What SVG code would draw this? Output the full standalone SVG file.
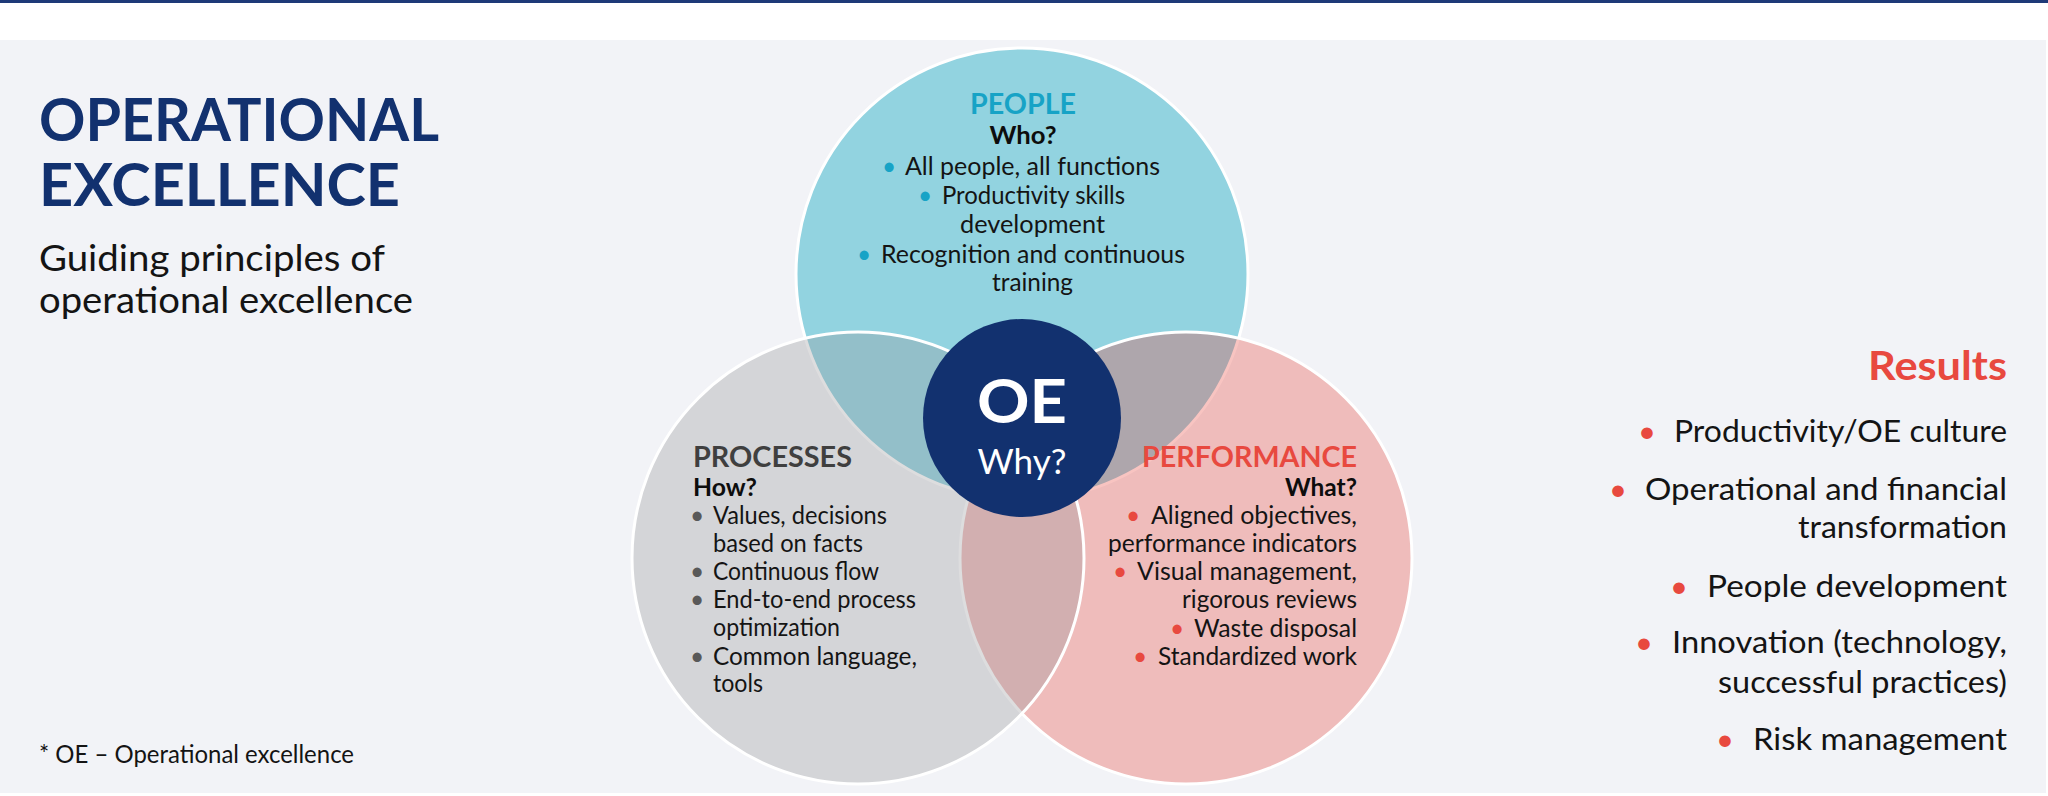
<svg xmlns="http://www.w3.org/2000/svg" width="2048" height="796" viewBox="0 0 2048 796">
<style>
text { font-family: Lato, "Liberation Sans", sans-serif; }
.bd { font-weight: 700; }
.body { font-size: 24.5px; fill: #141414; }
.res { font-size: 31px; fill: #141414; }
.navy { fill: #12316f; }
.teal { fill: #17a3c6; }
.red { fill: #e8493f; }
.dk { fill: #3f3f3f; }
.blk { fill: #0d0d0d; }
.ring { stroke: #ffffff; stroke-width: 3; }
.c { text-anchor: middle; }
.e { text-anchor: end; }
.bt { fill: #595959; }
</style>
<rect x="0" y="0" width="2048" height="796" fill="#ffffff"/>
<rect x="0" y="0" width="2048" height="3" fill="#1e3a78"/>
<rect x="0" y="40" width="2046" height="753" fill="#f2f3f7"/>

<g id="title">
<text x="39" y="141" class="bd navy" font-size="60" textLength="400" lengthAdjust="spacingAndGlyphs">OPERATIONAL</text>
<text x="39" y="206" class="bd navy" font-size="60" textLength="361" lengthAdjust="spacingAndGlyphs">EXCELLENCE</text>
<text x="39" y="271" font-size="36" fill="#141414" textLength="346" lengthAdjust="spacingAndGlyphs">Guiding principles of</text>
<text x="39" y="313" font-size="36" fill="#141414" textLength="374" lengthAdjust="spacingAndGlyphs">operational excellence</text>
</g>

<g id="node-people">
<circle cx="1022" cy="274" r="226" fill="#92d3e0" class="ring"/>
<text x="1023" y="114" class="bd teal c" font-size="28" textLength="106" lengthAdjust="spacingAndGlyphs">PEOPLE</text>
<text x="1023" y="144" class="bd blk c" font-size="24" textLength="67" lengthAdjust="spacingAndGlyphs">Who?</text>
<text x="889" y="175" class="body teal c">•</text>
<text x="905" y="175" class="body" textLength="255" lengthAdjust="spacingAndGlyphs">All people, all functions</text>
<text x="925" y="204" class="body teal c">•</text>
<text x="942" y="204" class="body" textLength="183" lengthAdjust="spacingAndGlyphs">Productivity skills</text>
<text x="960" y="233" class="body" textLength="145" lengthAdjust="spacingAndGlyphs">development</text>
<text x="864" y="263" class="body teal c">•</text>
<text x="881" y="263" class="body" textLength="304" lengthAdjust="spacingAndGlyphs">Recognition and continuous</text>
<text x="992" y="291" class="body" textLength="81" lengthAdjust="spacingAndGlyphs">training</text>
</g>

<g id="node-performance">
<circle cx="1186" cy="558" r="226" fill="#e8483f" fill-opacity="0.32" class="ring"/>
<text x="1357" y="467" class="bd red e" font-size="28" textLength="215" lengthAdjust="spacingAndGlyphs">PERFORMANCE</text>
<text x="1357" y="496" class="bd blk e" font-size="24" textLength="72" lengthAdjust="spacingAndGlyphs">What?</text>
<text x="1133" y="524" class="body red c">•</text>
<text x="1357" y="524" class="body e" textLength="206" lengthAdjust="spacingAndGlyphs">Aligned objectives,</text>
<text x="1357" y="552" class="body e" textLength="249" lengthAdjust="spacingAndGlyphs">performance indicators</text>
<text x="1120" y="580" class="body red c">•</text>
<text x="1357" y="580" class="body e" textLength="220" lengthAdjust="spacingAndGlyphs">Visual management,</text>
<text x="1357" y="608" class="body e" textLength="175" lengthAdjust="spacingAndGlyphs">rigorous reviews</text>
<text x="1177" y="637" class="body red c">•</text>
<text x="1357" y="637" class="body e" textLength="163" lengthAdjust="spacingAndGlyphs">Waste disposal</text>
<text x="1140" y="665" class="body red c">•</text>
<text x="1357" y="665" class="body e" textLength="199" lengthAdjust="spacingAndGlyphs">Standardized work</text>
</g>

<g id="node-processes">
<circle cx="858" cy="558" r="226" fill="#969698" fill-opacity="0.32" class="ring"/>
<text x="693" y="467" class="bd dk" font-size="28" textLength="159" lengthAdjust="spacingAndGlyphs">PROCESSES</text>
<text x="693" y="496" class="bd blk" font-size="24" textLength="64" lengthAdjust="spacingAndGlyphs">How?</text>
<text x="697" y="524" class="body bt c">•</text>
<text x="713" y="524" class="body" textLength="174" lengthAdjust="spacingAndGlyphs">Values, decisions</text>
<text x="713" y="552" class="body" textLength="150" lengthAdjust="spacingAndGlyphs">based on facts</text>
<text x="697" y="580" class="body bt c">•</text>
<text x="713" y="580" class="body" textLength="166" lengthAdjust="spacingAndGlyphs">Continuous flow</text>
<text x="697" y="608" class="body bt c">•</text>
<text x="713" y="608" class="body" textLength="203" lengthAdjust="spacingAndGlyphs">End-to-end process</text>
<text x="713" y="636" class="body" textLength="127" lengthAdjust="spacingAndGlyphs">optimization</text>
<text x="697" y="665" class="body bt c">•</text>
<text x="713" y="665" class="body" textLength="204" lengthAdjust="spacingAndGlyphs">Common language,</text>
<text x="713" y="692" class="body" textLength="50" lengthAdjust="spacingAndGlyphs">tools</text>
</g>

<g id="node-oe">
<circle cx="1022" cy="418" r="99" fill="#12316f"/>
<text x="1022" y="423" class="bd c" font-size="62" fill="#ffffff" textLength="90" lengthAdjust="spacingAndGlyphs">OE</text>
<text x="1022" y="474" class="c" font-size="35" fill="#ffffff" textLength="89" lengthAdjust="spacingAndGlyphs">Why?</text>
</g>

<g id="results">
<text x="2007" y="380" class="bd red e" font-size="40" textLength="139" lengthAdjust="spacingAndGlyphs">Results</text>
<text x="1647" y="442" class="res red c">•</text>
<text x="2007" y="442" class="res e" textLength="333" lengthAdjust="spacingAndGlyphs">Productivity/OE culture</text>
<text x="1618" y="500" class="res red c">•</text>
<text x="2007" y="500" class="res e" textLength="362" lengthAdjust="spacingAndGlyphs">Operational and financial</text>
<text x="2007" y="538" class="res e" textLength="209" lengthAdjust="spacingAndGlyphs">transformation</text>
<text x="1679" y="597" class="res red c">•</text>
<text x="2007" y="597" class="res e" textLength="300" lengthAdjust="spacingAndGlyphs">People development</text>
<text x="1644" y="653" class="res red c">•</text>
<text x="2007" y="653" class="res e" textLength="335" lengthAdjust="spacingAndGlyphs">Innovation (technology,</text>
<text x="2007" y="693" class="res e" textLength="289" lengthAdjust="spacingAndGlyphs">successful practices)</text>
<text x="1725" y="750" class="res red c">•</text>
<text x="2007" y="750" class="res e" textLength="254" lengthAdjust="spacingAndGlyphs">Risk management</text>
</g>

<g id="footnote">
<text x="39" y="763" font-size="24.5" fill="#141414" textLength="315" lengthAdjust="spacingAndGlyphs">* OE – Operational excellence</text>
</g>
</svg>
